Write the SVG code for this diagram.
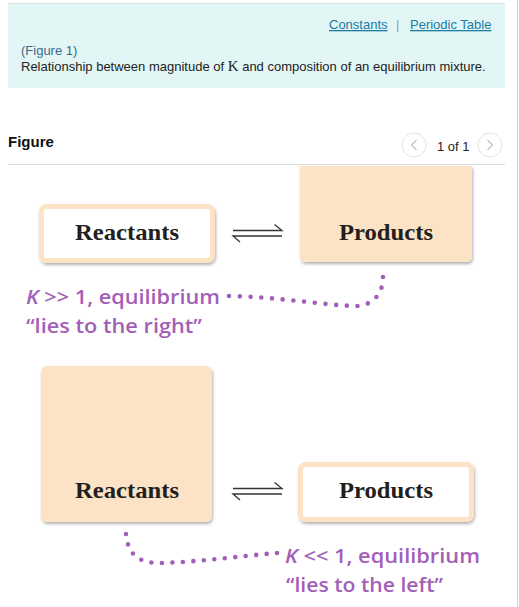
<svg xmlns="http://www.w3.org/2000/svg" width="519" height="607" viewBox="0 0 519 607">
<style>
.hdr{font-family:"Liberation Sans",Arial,sans-serif;font-size:13px;fill:#222}
.link{font-family:"Liberation Sans",Arial,sans-serif;font-size:13px;fill:#1c7aa3;text-decoration:underline}
.lbl{font-family:"Liberation Serif","Times New Roman",serif;font-weight:bold;font-size:23.5px;fill:#231f20}
.note{font-family:"Open Sans","Noto Sans",sans-serif;font-weight:600;font-size:20px;fill:#a35fb8}
.eq{stroke:#333;stroke-width:1.3;fill:none}
.dots{stroke:#a35fb8;stroke-width:4.6;stroke-linecap:round;stroke-dasharray:0 9.999;fill:none}
.peach{fill:#fde3c6}
</style>
<defs>
<filter id="sh" x="-10%" y="-10%" width="125%" height="130%">
<feDropShadow dx="1" dy="2" stdDeviation="1.4" flood-color="#000" flood-opacity="0.3"/>
</filter>
</defs>
<rect width="519" height="607" fill="#fff"/>
<line x1="517.5" y1="0" x2="517.5" y2="607" stroke="#c9d3dc" stroke-width="1"/>
<g id="header">
<rect x="8" y="3" width="497" height="85" fill="#e2f6f6"/>
<line x1="8" y1="3.5" x2="505" y2="3.5" stroke="#d6e0e4" stroke-width="1"/>
<text class="link" x="329" y="29">Constants</text>
<text class="hdr" x="396" y="29" style="fill:#999">|</text>
<text class="link" x="410" y="29">Periodic Table</text>
<text class="hdr" x="21" y="55" style="fill:#3d6a8c">(Figure 1)</text>
<text class="hdr" x="21" y="71">Relationship between magnitude of <tspan font-family="Liberation Serif,serif" font-size="15">K</tspan> and composition of an equilibrium mixture.</text>
</g>
<g id="figbar">
<text x="8" y="147" font-family="Liberation Sans,Arial,sans-serif" font-weight="bold" font-size="15" fill="#111">Figure</text>
<circle cx="414" cy="145" r="12" fill="#fff" stroke="#e3e3e3" stroke-width="1"/>
<path d="M416.5 140 L411.5 145 L416.5 150" fill="none" stroke="#c4c4c4" stroke-width="1.3"/>
<text x="437" y="151" font-family="Liberation Sans,Arial,sans-serif" font-size="13" fill="#222">1 of 1</text>
<circle cx="490" cy="145" r="12" fill="#fff" stroke="#e3e3e3" stroke-width="1"/>
<path d="M487.5 140 L492.5 145 L487.5 150" fill="none" stroke="#c4c4c4" stroke-width="1.3"/>
<line x1="8" y1="164.5" x2="505" y2="164.5" stroke="#dcdcdc" stroke-width="1"/>
</g>
<g id="top-reactants">
<rect x="41.5" y="206.5" width="171" height="54" rx="5" fill="#fff" stroke="#fde3c6" stroke-width="5" filter="url(#sh)"/>
<text class="lbl" x="127" y="240" text-anchor="middle" textLength="104" lengthAdjust="spacingAndGlyphs">Reactants</text>
</g>
<g id="top-products">
<path class="peach" d="M300 166 H472 V256 Q472 262 466 262 H306 Q300 262 300 256 Z" filter="url(#sh)"/>
<text class="lbl" x="386" y="240" text-anchor="middle" textLength="94" lengthAdjust="spacingAndGlyphs">Products</text>
</g>
<g id="bottom-reactants">
<rect class="peach" x="41" y="366" width="171" height="156" rx="6" filter="url(#sh)"/>
<text class="lbl" x="127" y="498" text-anchor="middle" textLength="104" lengthAdjust="spacingAndGlyphs">Reactants</text>
</g>
<g id="bottom-products">
<rect x="300.5" y="464.5" width="171" height="55" rx="5" fill="#fff" stroke="#fde3c6" stroke-width="5" filter="url(#sh)"/>
<text class="lbl" x="386" y="498" text-anchor="middle" textLength="94" lengthAdjust="spacingAndGlyphs">Products</text>
</g>
<g id="connectors">
<path class="eq" d="M233 230.5 H282 L274.5 224.5"/>
<path class="eq" d="M282 236 H233 L240 242"/>
<path class="eq" d="M233 488.5 H282 L274.5 482.5"/>
<path class="eq" d="M282 494 H233 L240 500"/>
<path class="dots" pathLength="160" d="M229 296 C 280 297, 330 306, 357 306 C 372 305, 383 295, 383 277"/>
<path class="dots" pathLength="160" d="M126 534 C 128 556, 140 563, 160 563 C 200 562, 240 556, 277 553"/>
</g>
<g id="annotations">
<text class="note" x="26" y="304" textLength="194" lengthAdjust="spacingAndGlyphs"><tspan font-style="italic">K</tspan> &gt;&gt; 1, equilibrium</text>
<text class="note" x="26" y="333" textLength="176" lengthAdjust="spacingAndGlyphs">“lies to the right”</text>
<text class="note" x="285" y="563" textLength="195" lengthAdjust="spacingAndGlyphs"><tspan font-style="italic">K</tspan> &lt;&lt; 1, equilibrium</text>
<text class="note" x="286" y="592" textLength="157" lengthAdjust="spacingAndGlyphs">“lies to the left”</text>
</g>
</svg>
